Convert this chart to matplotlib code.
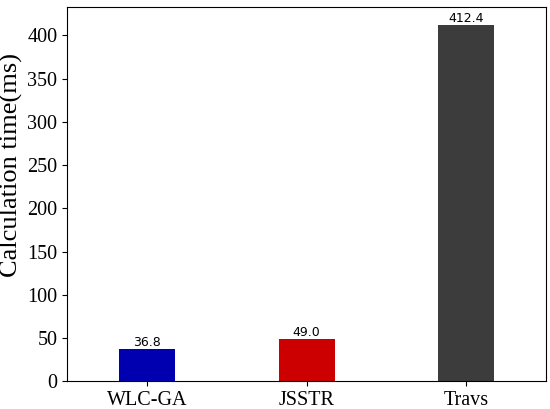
import matplotlib.pyplot as plt
import matplotlib

matplotlib.rcParams['font.family'] = ['Liberation Serif', 'DejaVu Serif']

methods = ['WLC-GA', 'JSSTR', 'Travs']
times = [36.8, 49.0, 412.4]
colors = ['#0000b0', '#cc0000', '#3c3c3c']

fig, ax = plt.subplots(figsize=(5.5, 4.09), dpi=100)
x = range(len(methods))
bars = ax.bar(x, times, width=0.35, color=colors)
for b, v in zip(bars, times):
    ax.text(b.get_x() + b.get_width() / 2, v, '%.1f' % v, ha='center', va='bottom',
            fontsize=9, family='DejaVu Sans')
ax.set_xticks(list(x))
ax.set_xticklabels(methods, fontsize=14.5)
ax.tick_params(axis='y', labelsize=14.5)
ax.set_xlim(-0.5, 2.5)
ax.set_ylabel('Calculation time(ms)', fontsize=19, labelpad=3)
ax.yaxis.label.set_y(0.577)
plt.subplots_adjust(left=0.122, right=0.993, top=0.983, bottom=0.068)
plt.savefig('out.png')
